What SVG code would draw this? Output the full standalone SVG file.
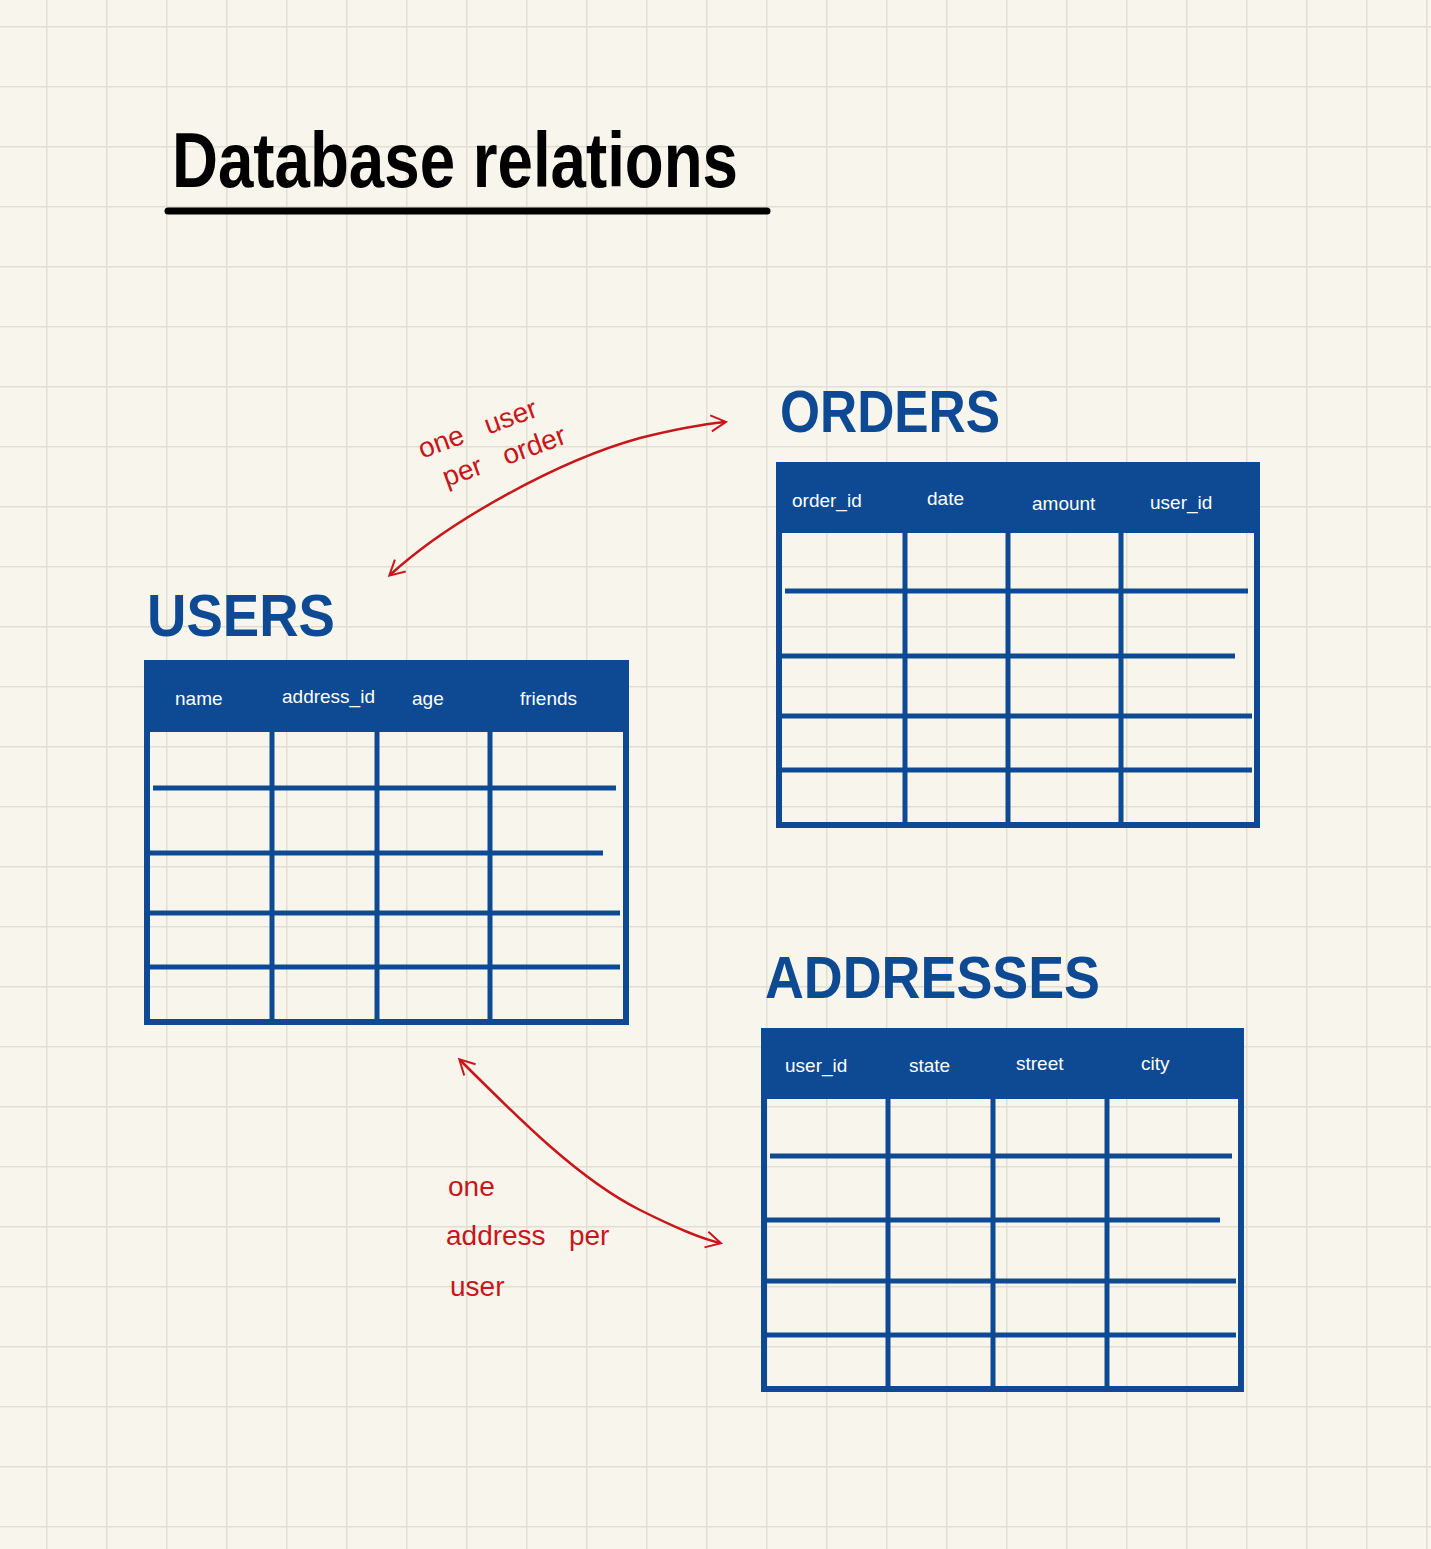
<svg xmlns="http://www.w3.org/2000/svg" width="1431" height="1549" viewBox="0 0 1431 1549">
<defs>
<pattern id="grid" x="46" y="26" width="60" height="60" patternUnits="userSpaceOnUse">
<path d="M0 0V60M0 0H60" fill="none" stroke="#e2ded2" stroke-width="3"/>
</pattern>
<marker id="ah" viewBox="0 0 20 20" refX="16" refY="10" markerWidth="20" markerHeight="20" markerUnits="userSpaceOnUse" orient="auto-start-reverse">
<path d="M2 2L17 10L2 18" fill="none" stroke="#c8161a" stroke-width="2"/>
</marker>
<style>
.frame{fill:none;stroke:#0d4a93;stroke-width:6}
.hdr{fill:#0d4a93}
.ln{stroke:#0d4a93;stroke-width:5}
.hl{fill:#fff;font-family:"Liberation Sans",sans-serif;font-size:19px}
.tt{fill:#0d4a93;font-family:"Liberation Sans",sans-serif;font-weight:bold;font-size:60px}
.rd{fill:#c8161a;font-family:"Liberation Sans",sans-serif;font-size:28px}
.cn{fill:none;stroke:#c8161a;stroke-width:2.5}
</style>
</defs>
<rect width="1431" height="1549" fill="#f8f6ec"/>
<rect width="1431" height="1549" fill="url(#grid)"/>
<g id="title">
<text x="172" y="187" font-family="Liberation Sans, sans-serif" font-size="78" font-weight="bold" fill="#000" textLength="566" lengthAdjust="spacingAndGlyphs">Database relations</text>
<line x1="168" y1="211" x2="767" y2="211" stroke="#000" stroke-width="7" stroke-linecap="round"/>
</g>
<g id="users">
<text class="tt" x="147" y="636" textLength="188" lengthAdjust="spacingAndGlyphs">USERS</text>
<rect class="hdr" x="147" y="663" width="479" height="69"/>
<rect class="frame" x="147" y="663" width="479" height="359"/>
<path class="ln" d="M272 732V1022M377 732V1022M490 732V1022M153 788H616M147 853H603M147 913H620M147 967H620"/>
<text class="hl" x="175" y="705">name</text><text class="hl" x="282" y="703">address_id</text><text class="hl" x="412" y="705">age</text><text class="hl" x="520" y="705">friends</text>
</g>
<g id="orders">
<text class="tt" x="780" y="432" textLength="220" lengthAdjust="spacingAndGlyphs">ORDERS</text>
<rect class="hdr" x="779" y="465" width="478" height="68"/>
<rect class="frame" x="779" y="465" width="478" height="360"/>
<path class="ln" d="M905 533V825M1008 533V825M1121 533V825M785 591H1248M779 656H1235M779 716H1252M779 770H1252"/>
<text class="hl" x="792" y="507">order_id</text><text class="hl" x="927" y="505">date</text><text class="hl" x="1032" y="510">amount</text><text class="hl" x="1150" y="509">user_id</text>
</g>
<g id="addresses">
<text class="tt" x="765" y="998" textLength="335" lengthAdjust="spacingAndGlyphs">ADDRESSES</text>
<rect class="hdr" x="764" y="1031" width="477" height="68"/>
<rect class="frame" x="764" y="1031" width="477" height="358"/>
<path class="ln" d="M888 1099V1389M993 1099V1389M1107 1099V1389M770 1156H1232M764 1220H1220M764 1281H1236M764 1335H1236"/>
<text class="hl" x="785" y="1072">user_id</text><text class="hl" x="909" y="1072">state</text><text class="hl" x="1016" y="1070">street</text><text class="hl" x="1141" y="1070">city</text>
</g>
<g id="connectors">
<path class="cn" d="M390 575C450 520 560 460 640 438C680 428 705 424 725 422" marker-start="url(#ah)" marker-end="url(#ah)"/>
<path class="cn" d="M460 1060C520 1120 580 1180 640 1210C680 1230 700 1238 720 1243" marker-start="url(#ah)" marker-end="url(#ah)"/>
</g>
<g id="labels">
<g transform="rotate(-20 470 420)">
<text class="rd" x="412" y="440" xml:space="preserve">one   user</text>
<text class="rd" x="425" y="475" xml:space="preserve">per   order</text>
</g>
<text class="rd" x="448" y="1196">one</text>
<text class="rd" x="446" y="1245" xml:space="preserve">address   per</text>
<text class="rd" x="450" y="1296">user</text>
</g>
</svg>
